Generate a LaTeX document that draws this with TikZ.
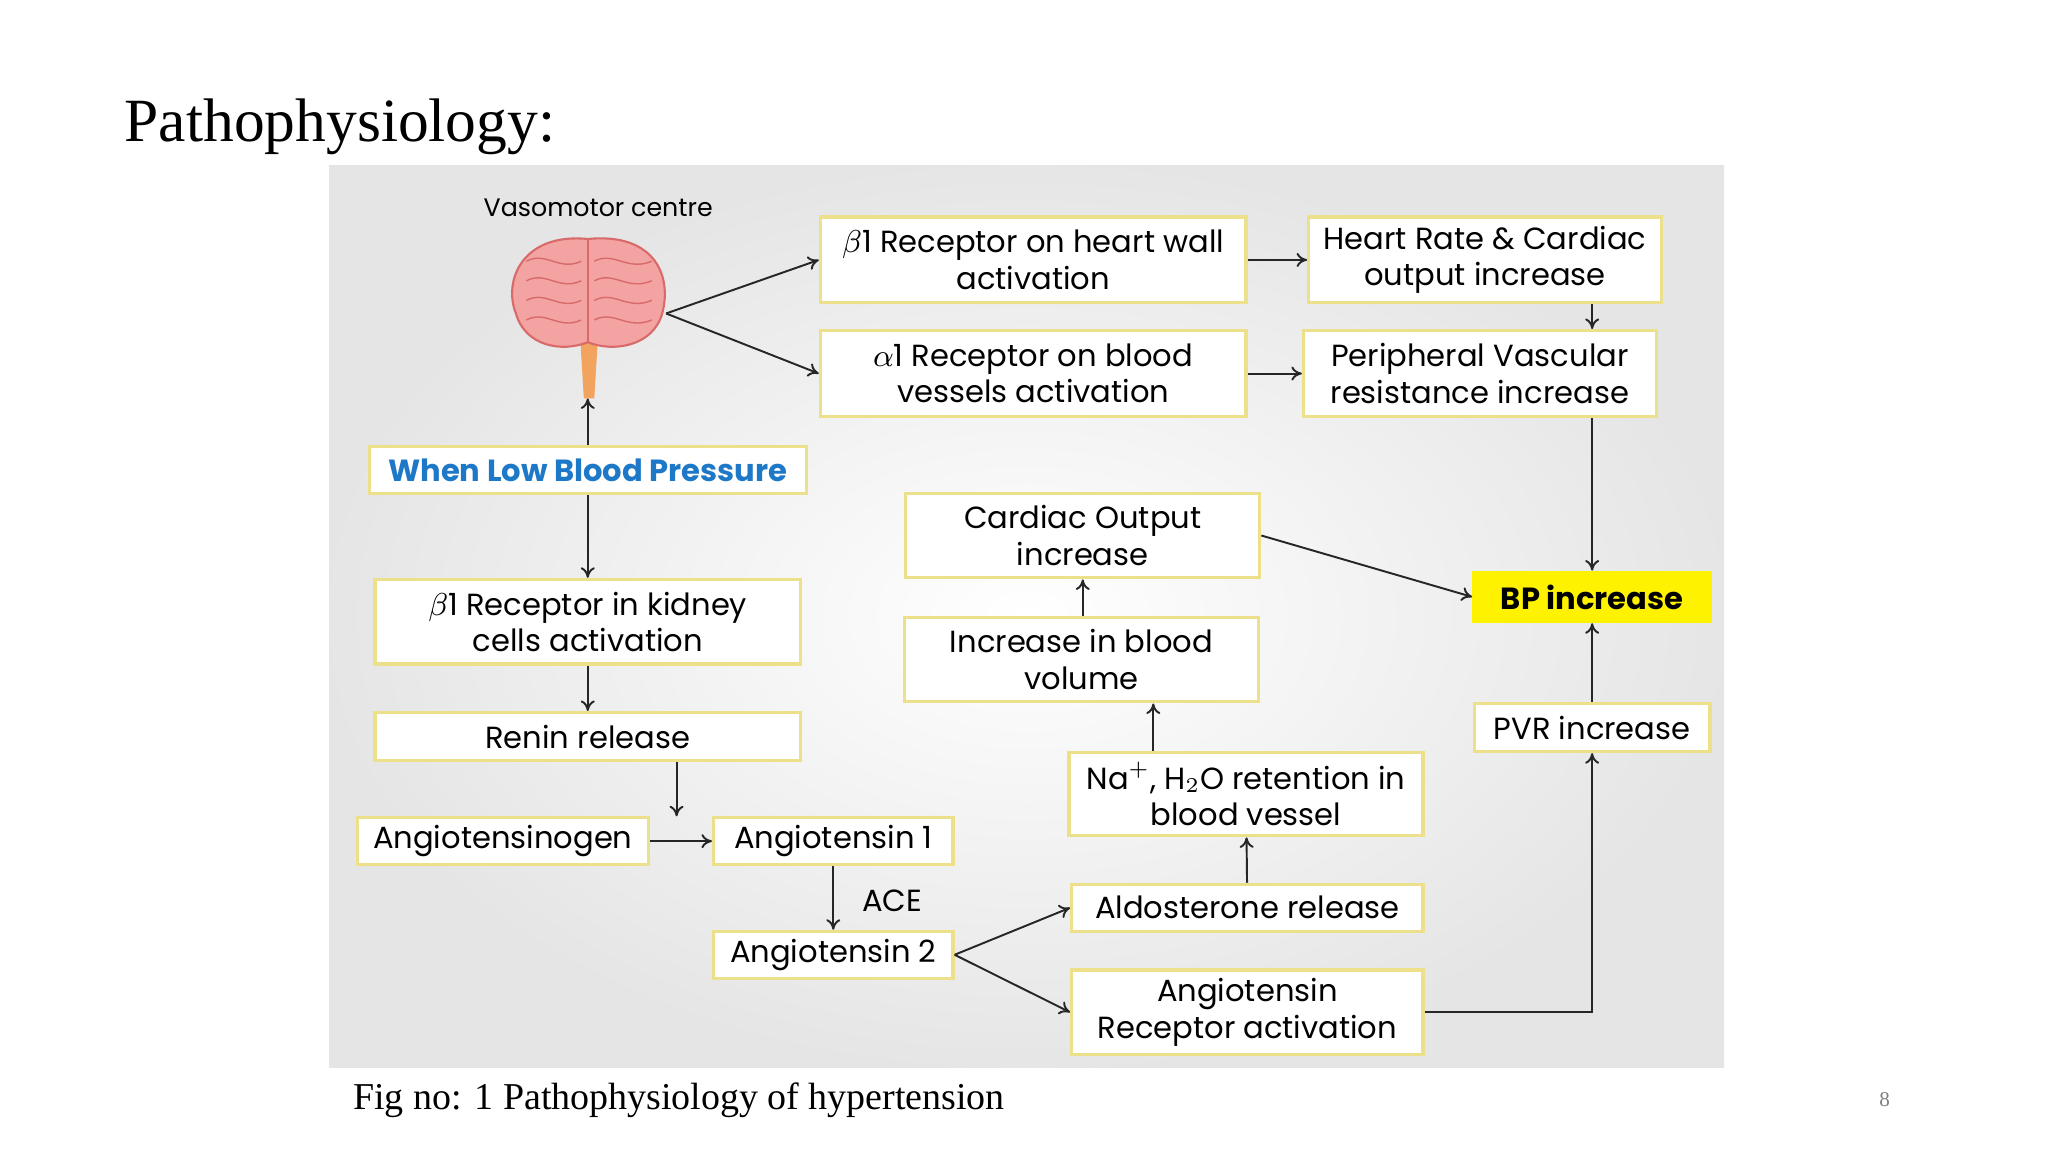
\documentclass[tikz,border=0pt]{standalone}
\usepackage{fontspec}
\setmainfont{Liberation Serif}
\newfontfamily\boxfont{Poppins}
\usetikzlibrary{arrows.meta}
\definecolor{boxline}{HTML}{EDE08A}
\definecolor{lowblue}{HTML}{1E78C8}
\definecolor{brainpink}{HTML}{F4A3A3}
\definecolor{braindark}{HTML}{D96A6A}
\definecolor{stem}{HTML}{F2A35E}
\tikzset{
  box/.style={draw=boxline, line width=0.9pt, fill=white, align=center, inner sep=0pt,
    font=\boxfont\fontsize{8.7}{10.3}\selectfont},
  sz/.style 2 args={minimum width=#1*0.3703pt, minimum height=#2*0.3703pt},
  arr/.style={-{To[length=3pt,width=4pt]}, line width=0.55pt, black!85},
}
\begin{document}
\begin{tikzpicture}[x=0.013061cm, y=-0.013061cm]
\useasboundingbox (0,0) rectangle (1568,882);
\fill[white] (0,0) rectangle (1568,882);
% panel
\shade[inner color=white, outer color=gray!20] (252,127) rectangle (1320,817);
\node[anchor=west, font=\fontsize{17.5}{20}\selectfont] (title) at (86,97) {Pathophysiology:};
\node[anchor=west, font=\fontsize{10.8}{13}\selectfont] (cap) at (261,842) {Fig no: 1 Pathophysiology of hypertension};
\node[font=\fontsize{6}{7}\selectfont, text=gray] (pg) at (1443,842) {8};
% brain
\node[font=\boxfont\fontsize{7.2}{8}\selectfont] (vaso) at (458,159) {Vasomotor centre};
\fill[stem] (444,255) -- (458,255) -- (455,305) -- (447,305) -- cycle;
\fill[brainpink, draw=braindark, line width=0.6pt] (450,183) .. controls (400,178) and (385,215) .. (395,240)
  .. controls (402,265) and (430,270) .. (450,262) .. controls (470,270) and (500,265) .. (507,240)
  .. controls (515,210) and (500,178) .. (450,183) -- cycle;
\draw[braindark, line width=0.6pt] (450,184) -- (450,262);
\foreach \y in {200,215,230,245}{
  \draw[braindark, line width=0.4pt] (403,\y) .. controls (418,\y-8) and (428,\y+8) .. (445,\y);
  \draw[braindark, line width=0.4pt] (455,\y) .. controls (470,\y-8) and (480,\y+8) .. (499,\y);
}
\coordinate (brainE) at (510,240);
\coordinate (brainS) at (450,305);
% boxes
\node[box, sz={327}{66}] (b1h) at (791,199) {$\beta$1 Receptor on heart wall\\activation};
\node[box, sz={271}{66}] (hr) at (1137,199) {Heart Rate \& Cardiac\\output increase};
\node[box, sz={327}{66}] (a1) at (791,286) {$\alpha$1 Receptor on blood\\vessels activation};
\node[box, sz={271}{66}] (pvr) at (1133,286) {Peripheral Vascular\\resistance increase};
\node[box, sz={336}{36}, font=\boxfont\bfseries\fontsize{8.7}{10.3}\selectfont, text=lowblue] (low) at (450,360) {When Low Blood Pressure};
\node[box, sz={272}{65}] (co) at (829,410) {Cardiac Output\\increase};
\node[box, draw=yellow, fill=yellow, sz={182}{38}, font=\boxfont\bfseries\fontsize{8.7}{10.3}\selectfont] (bp) at (1219,457) {BP increase};
\node[box, sz={327}{65}] (b1k) at (450,476) {$\beta$1 Receptor in kidney\\cells activation};
\node[box, sz={272}{65}] (ibv) at (828,505) {Increase in blood\\volume};
\node[box, sz={327}{37}] (ren) at (450,564) {Renin release};
\node[box, sz={181}{37}] (pvri) at (1219,557) {PVR increase};
\node[box, sz={272}{64}] (na) at (954,608) {Na$^{+}$, H$_2$O retention in\\blood vessel};
\node[box, sz={224}{36}] (agen) at (385,644) {Angiotensinogen};
\node[box, sz={184}{36}] (ang1) at (638,644) {Angiotensin 1};
\node[box, sz={270}{36}] (ald) at (955,695) {Aldosterone release};
\node[box, sz={184}{36}] (ang2) at (638,731) {Angiotensin 2};
\node[box, sz={270}{65}] (arec) at (955,775) {Angiotensin\\Receptor activation};
\node[font=\boxfont\fontsize{8.7}{9}\selectfont] (ace) at (683,690) {ACE};
% connectors
\draw[arr] (brainE) -- (b1h.west);
\draw[arr] (brainE) -- (a1.west);
\draw[arr] (b1h) -- (hr);
\draw[arr] (a1) -- (pvr);
\draw[arr] (hr.south -| bp) -- (pvr.north -| bp);
\draw[arr] (pvr.south -| bp) -- (bp.north);
\draw[arr] (low.north) -- (brainS);
\draw[arr] (low) -- (b1k);
\draw[arr] (b1k) -- (ren);
\coordinate (renE) at (518,625);
\draw[arr] (ren.south -| renE) -- (renE);
\draw[arr] (agen) -- (ang1);
\draw[arr] (ang1) -- (ang2);
\draw[arr] (ang2.east) -- (ald.west);
\draw[arr] (ang2.east) -- (arec.west);
\draw[arr] (ald) -- (na);
\draw[arr] (na.north -| 883,0) -- (ibv.south -| 883,0);
\draw[arr] (ibv.north -| 829,0) -- (co.south -| 829,0);
\draw[arr] (co.east) -- (bp.west);
\draw[arr] (arec.east) -| (pvri.south);
\draw[arr] (pvri) -- (bp);
\end{tikzpicture}
\end{document}
